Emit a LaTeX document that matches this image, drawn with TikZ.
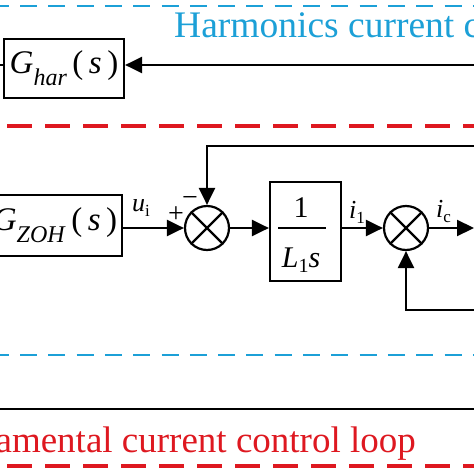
\documentclass[tikz,border=0pt]{standalone}
\usepackage{fontspec}
\setmainfont{Liberation Serif}
\usetikzlibrary{arrows.meta}
\definecolor{harblue}{RGB}{28,160,215}
\definecolor{fundred}{RGB}{222,24,32}
\newcommand{\tfn}[3]{\textit{#1}\raisebox{-12pt}{\fontsize{24}{24}\selectfont\textit{#2}}\,(\,\textit{#3}\,)}
\newcommand{\lab}[2]{#1\raisebox{-5pt}{\fontsize{17}{17}\selectfont #2}}
\tikzset{
  blk/.style={draw, line width=2.2pt, inner sep=0pt, font=\fontsize{33}{33}\selectfont},
  sumnode/.style={draw, circle, line width=2.2pt, minimum size=44pt, inner sep=0pt},
  sig/.style={line width=2.2pt, -{Triangle[length=17pt,width=16pt]}},
  wire/.style={line width=2.2pt},
  bluedash/.style={harblue, line width=2.5pt, dash pattern=on 17pt off 11.3pt, dash phase=8.3pt},
  reddash/.style={fundred, line width=3.2pt, dash pattern=on 25pt off 13pt, dash phase=31pt},
  sigtext/.style={anchor=base west, inner sep=0pt, font=\fontsize{26}{26}\selectfont}
}
\begin{document}
\begin{tikzpicture}[x=1pt, y=-1pt]
\useasboundingbox (0,0) rectangle (474,474);
\clip (0,0) rectangle (474,474);
\draw[bluedash] (0,6) -- (474,6);
\node[anchor=base west, inner sep=0pt, text=harblue, font=\fontsize{37.5}{37.5}\selectfont] (hartext) at (174,37) {Harmonics current c};
\node[blk, minimum width=120pt, minimum height=59pt] (hbox) at (64,68.5) {\tfn{G}{har}{s}};
\coordinate (hin) at (474,65);
\coordinate (hout) at (0,65);
\draw[sig] (hin) -- (hin -| hbox.east);
\draw[wire] (hout -| hbox.west) -- (hout);
\draw[reddash] (0,126) -- (474,126);
\node[blk, minimum width=134pt, minimum height=61pt] (zoh) at (55,225.5) {\tfn{G}{ZOH}{s}};
\node[sumnode] (sumA) at (207,228) {};
\node[blk, minimum width=71pt, minimum height=99pt] (lbox) at (305.5,231.5) {};
\node[inner sep=0pt, font=\fontsize{30}{30}\selectfont] (num) at (301,207.5) {1};
\node[anchor=base, inner sep=0pt, font=\fontsize{30}{30}\selectfont] (den) at (301,267) {\lab{\textit{L}}{\fontsize{20}{20}\selectfont 1}\textit{s}};
\draw[wire] (278,228) -- (326,228);
\node[sumnode] (sumB) at (406,228) {};
\foreach \s in {sumA, sumB}
  \draw[wire] (\s.north west) -- (\s.south east) (\s.north east) -- (\s.south west);
\node[sigtext] (ui) at (132,211) {\lab{\textit{u}}{i}};
\node[sigtext] (ione) at (349,218) {\lab{\textit{i}}{1}};
\node[sigtext] (ic) at (436,217) {\lab{\textit{i}}{c}};
\node[inner sep=0pt, font=\fontsize{28}{28}\selectfont] (plus) at (176,215) {+};
\node[inner sep=0pt, font=\fontsize{28}{28}\selectfont] (minus) at (190,201) {−};
\coordinate (out) at (474,228);
\coordinate (fbtop) at (474,146);
\coordinate (fbbot) at (474,310);
\draw[sig] (zoh.east |- sumA) -- (sumA.west);
\draw[sig] (sumA.east) -- (sumA -| lbox.west);
\draw[sig] (sumA -| lbox.east) -- (sumB.west);
\draw[sig] (sumB.east) -- (out);
\draw[sig] (fbtop) -| (sumA.north);
\draw[sig] (fbbot) -| (sumB.south);
\draw[bluedash] (0,355) -- (474,355);
\draw[wire] (0,409) -- (474,409);
\node[anchor=base east, inner sep=0pt, text=fundred, font=\fontsize{37}{37}\selectfont] (fundtext) at (416,452) {amental current control loop};
\draw[reddash] (0,466) -- (474,466);
\end{tikzpicture}
\end{document}
